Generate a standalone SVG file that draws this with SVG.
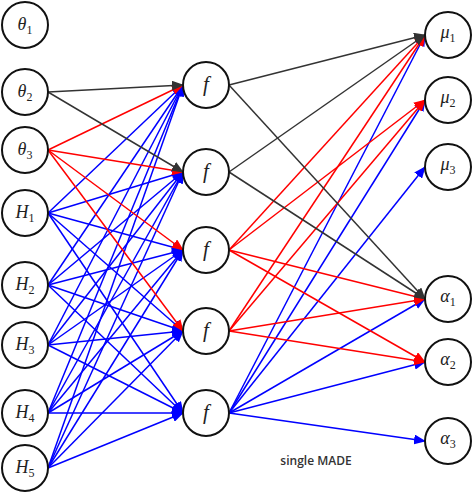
<svg xmlns="http://www.w3.org/2000/svg" width="474" height="494" viewBox="0 0 474 494">
<style>
.n{fill:#fff;stroke:#111;stroke-width:2}
.s{font-style:normal;font-size:12px}
.k{stroke:#333;stroke-width:1.5;fill:none}
.r{stroke:#f00;stroke-width:1.5;fill:none}
.b{stroke:#00f;stroke-width:1.5;fill:none}
.k{marker-end:url(#ak)}
.r{marker-end:url(#ar)}
.b{marker-end:url(#ab)}
</style>
<defs>
<marker id="ak" markerUnits="userSpaceOnUse" markerWidth="12" markerHeight="10" refX="11" refY="5" orient="auto"><path d="M0,0 L12,5 L0,10 Z" fill="#333"/></marker>
<marker id="ar" markerUnits="userSpaceOnUse" markerWidth="12" markerHeight="10" refX="11" refY="5" orient="auto"><path d="M0,0 L12,5 L0,10 Z" fill="#f00"/></marker>
<marker id="ab" markerUnits="userSpaceOnUse" markerWidth="12" markerHeight="10" refX="11" refY="5" orient="auto"><path d="M0,0 L12,5 L0,10 Z" fill="#00f"/></marker>
</defs>
<g id="connectors">
<g id="blue-in">
<line class="b" x1="48" y1="213" x2="183" y2="85"/><line class="b" x1="48" y1="213" x2="183" y2="172"/><line class="b" x1="48" y1="213" x2="183" y2="250"/><line class="b" x1="48" y1="213" x2="183" y2="331"/><line class="b" x1="48" y1="213" x2="183" y2="413"/>
<line class="b" x1="48" y1="285" x2="183" y2="85"/><line class="b" x1="48" y1="285" x2="183" y2="172"/><line class="b" x1="48" y1="285" x2="183" y2="250"/><line class="b" x1="48" y1="285" x2="183" y2="331"/><line class="b" x1="48" y1="285" x2="183" y2="413"/>
<line class="b" x1="48" y1="345" x2="183" y2="85"/><line class="b" x1="48" y1="345" x2="183" y2="172"/><line class="b" x1="48" y1="345" x2="183" y2="250"/><line class="b" x1="48" y1="345" x2="183" y2="331"/><line class="b" x1="48" y1="345" x2="183" y2="413"/>
<line class="b" x1="48" y1="413" x2="183" y2="85"/><line class="b" x1="48" y1="413" x2="183" y2="172"/><line class="b" x1="48" y1="413" x2="183" y2="250"/><line class="b" x1="48" y1="413" x2="183" y2="331"/><line class="b" x1="48" y1="413" x2="183" y2="413"/>
<line class="b" x1="48" y1="468" x2="183" y2="85"/><line class="b" x1="48" y1="468" x2="183" y2="172"/><line class="b" x1="48" y1="468" x2="183" y2="250"/><line class="b" x1="48" y1="468" x2="183" y2="331"/><line class="b" x1="48" y1="468" x2="183" y2="413"/>
</g>
<g id="blue-out">
<line class="b" x1="229" y1="413" x2="425" y2="35"/><line class="b" x1="229" y1="413" x2="425" y2="100"/><line class="b" x1="229" y1="413" x2="425" y2="167"/><line class="b" x1="229" y1="413" x2="425" y2="299"/><line class="b" x1="229" y1="413" x2="425" y2="362"/><line class="b" x1="229" y1="413" x2="425" y2="441"/>
</g>
<g id="red">
<line class="r" x1="48" y1="150" x2="183" y2="85"/><line class="r" x1="48" y1="150" x2="183" y2="172"/><line class="r" x1="48" y1="150" x2="183" y2="250"/><line class="r" x1="48" y1="150" x2="183" y2="331"/>
<line class="r" x1="229" y1="250" x2="425" y2="35"/><line class="r" x1="229" y1="250" x2="425" y2="100"/><line class="r" x1="229" y1="250" x2="425" y2="299"/><line class="r" x1="229" y1="250" x2="425" y2="362"/>
<line class="r" x1="229" y1="331" x2="425" y2="35"/><line class="r" x1="229" y1="331" x2="425" y2="100"/><line class="r" x1="229" y1="331" x2="425" y2="299"/><line class="r" x1="229" y1="331" x2="425" y2="362"/>
</g>
<g id="black">
<line class="k" x1="48" y1="92" x2="183" y2="85"/><line class="k" x1="48" y1="92" x2="183" y2="172"/>
<line class="k" x1="229" y1="85" x2="425" y2="35"/><line class="k" x1="229" y1="85" x2="425" y2="299"/>
<line class="k" x1="229" y1="172" x2="425" y2="35"/><line class="k" x1="229" y1="172" x2="425" y2="299"/>
</g>
</g>
<g font-family="Liberation Serif, DejaVu Serif, serif" font-size="18" font-style="italic" fill="#222" text-anchor="middle">
<g id="theta1"><circle class="n" cx="25" cy="25" r="23"/><text x="25" y="30">θ<tspan class="s" dy="4">1</tspan></text></g>
<g id="theta2"><circle class="n" cx="25" cy="92" r="23"/><text x="25" y="97">θ<tspan class="s" dy="4">2</tspan></text></g>
<g id="theta3"><circle class="n" cx="25" cy="150" r="23"/><text x="25" y="155">θ<tspan class="s" dy="4">3</tspan></text></g>
<g id="H1"><circle class="n" cx="25" cy="213" r="23"/><text x="25" y="218">H<tspan class="s" dy="4">1</tspan></text></g>
<g id="H2"><circle class="n" cx="25" cy="285" r="23"/><text x="25" y="290">H<tspan class="s" dy="4">2</tspan></text></g>
<g id="H3"><circle class="n" cx="25" cy="345" r="23"/><text x="25" y="350">H<tspan class="s" dy="4">3</tspan></text></g>
<g id="H4"><circle class="n" cx="25" cy="413" r="23"/><text x="25" y="418">H<tspan class="s" dy="4">4</tspan></text></g>
<g id="H5"><circle class="n" cx="25" cy="468" r="23"/><text x="25" y="473">H<tspan class="s" dy="4">5</tspan></text></g>
<g id="f1"><circle class="n" cx="206" cy="85" r="23"/><text x="206" y="91" font-size="21">f</text></g>
<g id="f2"><circle class="n" cx="206" cy="172" r="23"/><text x="206" y="178" font-size="21">f</text></g>
<g id="f3"><circle class="n" cx="206" cy="250" r="23"/><text x="206" y="256" font-size="21">f</text></g>
<g id="f4"><circle class="n" cx="206" cy="331" r="23"/><text x="206" y="337" font-size="21">f</text></g>
<g id="f5"><circle class="n" cx="206" cy="413" r="23"/><text x="206" y="419" font-size="21">f</text></g>
<g id="mu1"><circle class="n" cx="448" cy="35" r="23"/><text x="448" y="38">μ<tspan class="s" dy="4">1</tspan></text></g>
<g id="mu2"><circle class="n" cx="448" cy="100" r="23"/><text x="448" y="103">μ<tspan class="s" dy="4">2</tspan></text></g>
<g id="mu3"><circle class="n" cx="448" cy="167" r="23"/><text x="448" y="170">μ<tspan class="s" dy="4">3</tspan></text></g>
<g id="alpha1"><circle class="n" cx="448" cy="299" r="23"/><text x="448" y="302">α<tspan class="s" dy="4">1</tspan></text></g>
<g id="alpha2"><circle class="n" cx="448" cy="362" r="23"/><text x="448" y="365">α<tspan class="s" dy="4">2</tspan></text></g>
<g id="alpha3"><circle class="n" cx="448" cy="441" r="23"/><text x="448" y="444">α<tspan class="s" dy="4">3</tspan></text></g>
</g>
<text x="316" y="465" font-family="Open Sans, sans-serif" font-size="12" font-weight="600" fill="#333" text-anchor="middle">single MADE</text>
</svg>
